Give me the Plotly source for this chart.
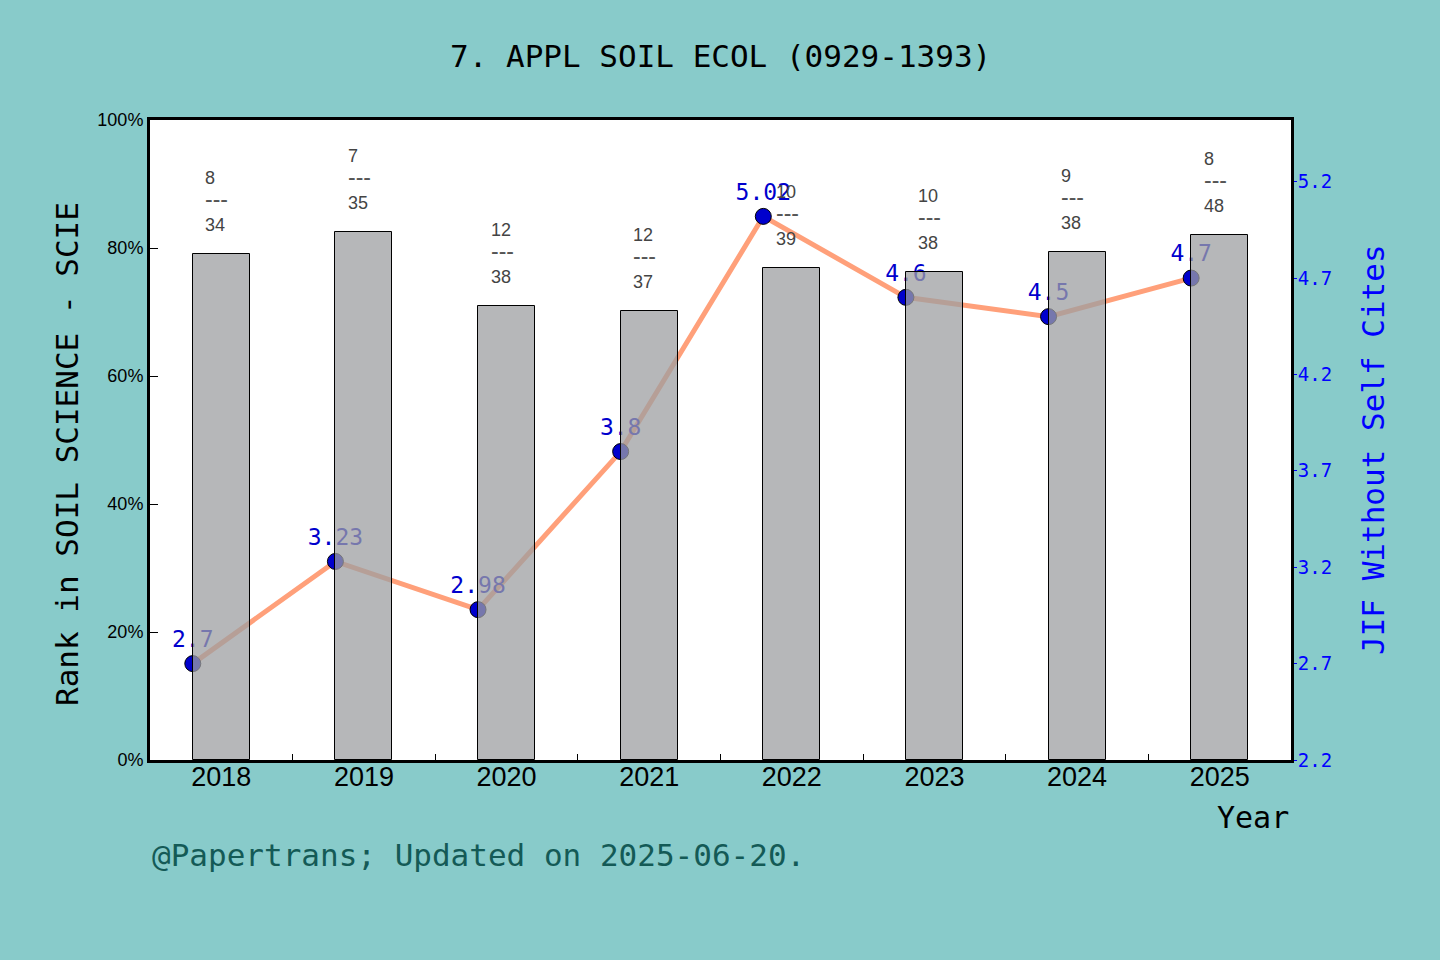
import plotly.graph_objects as go

years = [2018, 2019, 2020, 2021, 2022, 2023, 2024, 2025]
rank_pos = [8, 7, 12, 12, 10, 10, 9, 8]
rank_total = [34, 35, 38, 37, 39, 38, 38, 48]
rank_pct = [0.790, 0.825, 0.709, 0.702, 0.769, 0.762, 0.794, 0.820]
jif = [2.7, 3.23, 2.98, 3.8, 5.02, 4.6, 4.5, 4.7]
jif_labels = ["2.7", "3.23", "2.98", "3.8", "5.02", "4.6", "4.5", "4.7"]
right_ticks = [2.2, 2.7, 3.2, 3.7, 4.2, 4.7, 5.2]
left_ticks = [0, 0.2, 0.4, 0.6, 0.8, 1.0]

BAR_W = 0.4
MONO = "DejaVu Sans Mono"
SANS = "Liberation Sans, Arial"
BG = "#88cbca"

fig = go.Figure()

# line (drawn beneath bars)
fig.add_trace(go.Scatter(
    x=years, y=jif, yaxis="y",
    mode="lines+markers+text",
    line=dict(color="#ffa07a", width=5),
    marker=dict(size=16, color="mediumblue", line=dict(color="black", width=1)),
    text=jif_labels, textposition="top center",
    textfont=dict(family=MONO, size=23, color="mediumblue"),
    cliponaxis=False, showlegend=False,
))

# bars (overlaid, semi-transparent)
fig.add_trace(go.Bar(
    x=years, y=rank_pct, yaxis="y2",
    width=BAR_W, offset=0,
    marker=dict(color="rgba(158,159,161,0.75)", line=dict(color="black", width=1)),
    showlegend=False,
))

annotations = []
for yr, p, n, v in zip(years, rank_pos, rank_total, rank_pct):
    annotations.append(dict(
        x=yr + BAR_W / 2, y=v, xref="x", yref="y2",
        text=f"{p}<br><span style='font-size:23px;color:#555555'>---</span><br>{n}",
        showarrow=False, align="left", xanchor="left", yanchor="bottom",
        xshift=-18, yshift=17, font=dict(family=SANS, size=18, color="#444444"),
    ))

annotations += [
    dict(text="7. APPL SOIL ECOL (0929-1393)", x=0.5, y=(760 - 56) / 640,
         xref="paper", yref="paper", showarrow=False, xanchor="center", yanchor="middle",
         font=dict(family=MONO, size=31, color="black")),
    dict(text="Rank in SOIL SCIENCE - SCIE", x=(67 - 150) / 1141, y=(760 - 454) / 640,
         xref="paper", yref="paper", showarrow=False, textangle=-90,
         xanchor="center", yanchor="middle",
         font=dict(family=MONO, size=31, color="black")),
    dict(text="JIF Without Self Cites", x=(1373 - 150) / 1141, y=(760 - 450) / 640,
         xref="paper", yref="paper", showarrow=False, textangle=-90,
         xanchor="center", yanchor="middle",
         font=dict(family=MONO, size=31, color="blue")),
    dict(text="Year", x=1.0, y=(760 - 817) / 640,
         xref="paper", yref="paper", showarrow=False, xanchor="right", yanchor="middle",
         font=dict(family=MONO, size=30, color="black")),
    dict(text="@Papertrans; Updated on 2025-06-20.", x=0.0, y=(760 - 855) / 640,
         xref="paper", yref="paper", showarrow=False, xanchor="left", yanchor="middle",
         font=dict(family=MONO, size=31, color="#145a56")),
]

fig.update_layout(
    width=1440, height=960,
    paper_bgcolor=BG, plot_bgcolor="white",
    margin=dict(l=150, r=149, t=120, b=200),
    annotations=annotations,
    bargap=0,
    xaxis=dict(
        range=[2017.7, 2025.7],
        tickvals=[y + BAR_W / 2 for y in years],
        ticktext=[str(y) for y in years],
        ticks="", ticklen=0, ticklabelstandoff=-9,
        showgrid=False, zeroline=False,
        showline=True, linecolor="black", linewidth=3, mirror=True,
        tickfont=dict(family=SANS, size=27, color="black"),
        minor=dict(tickvals=[y + 0.7 for y in years[:-1]], ticks="inside",
                   ticklen=6, tickcolor="black", tickwidth=1, showgrid=False),
    ),
    yaxis=dict(
        side="right", range=[2.2, 5.52],
        tickvals=right_ticks, ticktext=[f"{t:.1f}" for t in right_ticks],
        ticks="outside", ticklen=3, tickcolor="blue", ticklabelstandoff=-3,
        showgrid=False, zeroline=False,
        showline=True, linecolor="black", linewidth=3,
        tickfont=dict(family=MONO, size=19, color="blue"),
    ),
    yaxis2=dict(
        overlaying="y", side="left", range=[0, 1],
        tickvals=left_ticks, ticktext=[f"{int(round(t*100))}%" for t in left_ticks],
        ticks="inside", ticklen=8, tickcolor="black",
        showgrid=False, zeroline=False,
        showline=True, linecolor="black", linewidth=3,
        tickfont=dict(family=SANS, size=18, color="black"),
    ),
)

fig.write_html("out.html", config={"displayModeBar": False})

# remove default page margin so the figure sits at the window's top-left corner
with open("out.html", "r", encoding="utf-8") as f:
    html = f.read()
html = html.replace("<head>", "<head><style>html,body{margin:0;padding:0;}</style>", 1)
with open("out.html", "w", encoding="utf-8") as f:
    f.write(html)
